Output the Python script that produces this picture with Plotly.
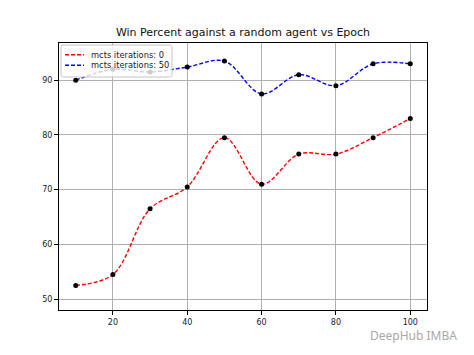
import plotly.graph_objects as go

epochs = [10, 20, 30, 40, 50, 60, 70, 80, 90, 100]
win_mcts0 = [52.5, 54.5, 66.5, 70.5, 79.5, 71.0, 76.5, 76.5, 79.5, 83.0]
win_mcts50 = [90.0, 92.0, 91.5, 92.4, 93.5, 87.5, 91.0, 89.0, 93.0, 93.0]
series_names = ["mcts iterations: 0", "mcts iterations: 50"]
series_colors = ["#ff0000", "#0000ff"]
x_ticks = [20, 40, 60, 80, 100]
y_ticks = [50, 60, 70, 80, 90]

FONT = "DejaVu Sans"
W, H = 474, 355
L, R, T, B = 59, 47, 43, 45
PW, PH = W - L - R, H - T - B


def px_x(px):
    return (px - L) / PW


def px_y(py):
    return (H - B - py) / PH


fig = go.Figure()

for ys, name, color in zip([win_mcts0, win_mcts50], series_names, series_colors):
    fig.add_trace(go.Scatter(
        x=epochs, y=ys, mode="lines", name=name, showlegend=False,
        line=dict(color=color, width=1.4, dash="4px,2px", shape="spline", smoothing=1.0),
    ))
for ys in [win_mcts0, win_mcts50]:
    fig.add_trace(go.Scatter(
        x=epochs, y=ys, mode="markers", showlegend=False,
        marker=dict(color="black", size=5),
    ))

# legend (matplotlib-like compact box with rounded corners)
bx0, bx1, by0, by1, rr = 61, 172, 45, 77, 2.5
path = (f"M {px_x(bx0 + rr)} {px_y(by0)} L {px_x(bx1 - rr)} {px_y(by0)} "
        f"Q {px_x(bx1)} {px_y(by0)} {px_x(bx1)} {px_y(by0 + rr)} "
        f"L {px_x(bx1)} {px_y(by1 - rr)} Q {px_x(bx1)} {px_y(by1)} {px_x(bx1 - rr)} {px_y(by1)} "
        f"L {px_x(bx0 + rr)} {px_y(by1)} Q {px_x(bx0)} {px_y(by1)} {px_x(bx0)} {px_y(by1 - rr)} "
        f"L {px_x(bx0)} {px_y(by0 + rr)} Q {px_x(bx0)} {px_y(by0)} {px_x(bx0 + rr)} {px_y(by0)} Z")
shapes = [dict(type="path", xref="paper", yref="paper", layer="above", path=path,
               fillcolor="rgba(255,255,255,0.8)", line=dict(color="#c4c4c4", width=1))]
annotations = []
for i, (name, color) in enumerate(zip(series_names, series_colors)):
    yc = 54.7 + i * 10.6
    shapes.append(dict(type="line", xref="paper", yref="paper", layer="above",
                       x0=px_x(65), x1=px_x(84), y0=px_y(yc), y1=px_y(yc),
                       line=dict(color=color, width=1.4, dash="4px,2px")))
    annotations.append(dict(text=name, xref="paper", yref="paper",
                            x=px_x(88.5), y=px_y(yc), xanchor="left", yanchor="middle",
                            showarrow=False, font=dict(size=8.3, color="#222222", family=FONT)))

annotations.append(dict(text="DeepHub IMBA", xref="paper", yref="paper",
                        x=px_x(459), y=px_y(335), xanchor="right", yanchor="middle",
                        showarrow=False, font=dict(size=12, color="#a8a8a8", family="Noto Sans")))

fig.update_layout(
    width=W, height=H,
    margin=dict(l=L, r=R, t=T, b=B),
    paper_bgcolor="white", plot_bgcolor="white",
    font=dict(family=FONT, size=8, color="#222222"),
    title=dict(text="Win Percent against a random agent vs Epoch",
               x=243 / W, xanchor="center", y=1 - 32 / H, yanchor="middle",
               font=dict(size=11, color="#111111")),
    showlegend=False,
    xaxis=dict(range=[5.5, 104.5], tickvals=x_ticks, showgrid=True, gridcolor="#b0b0b0",
               gridwidth=0.8, zeroline=False, showline=True, linecolor="black", linewidth=1,
               mirror=True, ticks="outside", ticklen=4, tickcolor="black"),
    yaxis=dict(range=[48.0, 96.8], tickvals=y_ticks, showgrid=True, gridcolor="#b0b0b0",
               gridwidth=0.8, zeroline=False, showline=True, linecolor="black", linewidth=1,
               mirror=True, ticks="outside", ticklen=4, tickcolor="black"),
    shapes=shapes,
    annotations=annotations,
)

fig.write_html("out.html")
